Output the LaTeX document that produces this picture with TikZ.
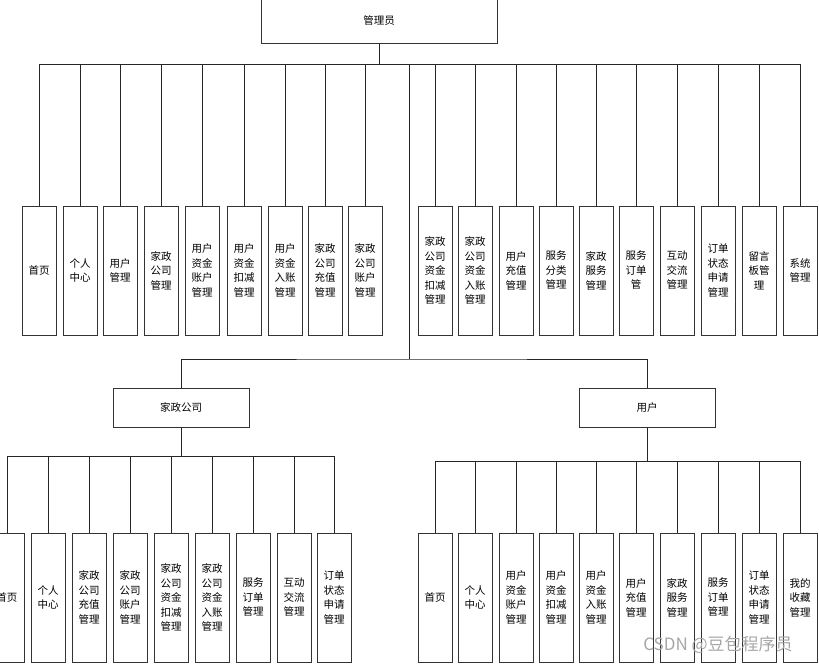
\documentclass[tikz,border=0pt]{standalone}
\usepackage{fontspec}
\newfontfamily\cjk{Noto Sans CJK SC}
\begin{document}
\begin{tikzpicture}[x=1pt,y=-1pt,
  leaf/.style={draw=black!80,line width=0.9pt,minimum width=34pt,minimum height=129pt,inner sep=0pt,text width=30pt,align=center,font=\cjk\fontsize{10.5}{14.5}\selectfont},
  mid/.style={draw=black!80,line width=0.9pt,minimum width=136pt,minimum height=39pt,inner sep=0pt,font=\cjk\fontsize{10.5}{14}\selectfont},
  conn/.style={draw=black!85,line width=0.8pt}]
\useasboundingbox (0,0) rectangle (819,664);
\node[mid,minimum width=236pt,minimum height=44pt] (root) at (379,21) {管理员};
\coordinate (bus) at (379,64);
\foreach \x/\t [count=\i] in {39/首页,80/个人\\中心,120/用户\\管理,161/家政\\公司\\管理,202/用户\\资金\\账户\\管理,244/用户\\资金\\扣减\\管理,285/用户\\资金\\入账\\管理,325/家政\\公司\\充值\\管理,365/家政\\公司\\账户\\管理,435/家政\\公司\\资金\\扣减\\管理,475/家政\\公司\\资金\\入账\\管理,516/用户\\充值\\管理,556/服务\\分类\\管理,596/家政\\服务\\管理,636/服务\\订单\\管,677/互动\\交流\\管理,718/订单\\状态\\申请\\管理,759/留言\\板管\\理,800/系统\\管理}{
  \node[leaf] (t\i) at (\x,270.5) {\t};
  \draw[conn] (t\i.north) -- (t\i.north |- bus);
}
\draw[conn] (root.south) -- (bus);
\draw[conn] (bus -| t1) -- (bus -| t19);
\node[mid] (jz) at (181,407.5) {家政公司};
\node[mid] (yh) at (647,407.5) {用户};
\coordinate (m) at (409,359);
\draw[conn] (bus -| m) -- (m);
\draw[conn] (jz.north) |- (m) -| (yh.north);
\coordinate (jbus) at (181,456);
\draw[conn] (jz.south) -- (jbus);
\foreach \x/\t [count=\i] in {7/首页,48/个人\\中心,89/家政\\公司\\充值\\管理,130/家政\\公司\\账户\\管理,171/家政\\公司\\资金\\扣减\\管理,212/家政\\公司\\资金\\入账\\管理,253/服务\\订单\\管理,294/互动\\交流\\管理,334/订单\\状态\\申请\\管理}{
  \node[leaf] (j\i) at (\x,597.5) {\t};
  \draw[conn] (j\i.north) -- (j\i.north |- jbus);
}
\draw[conn] (jbus -| j1) -- (jbus -| j9);
\coordinate (ubus) at (647,461);
\draw[conn] (yh.south) -- (ubus);
\foreach \x/\t [count=\i] in {435/首页,475/个人\\中心,516/用户\\资金\\账户\\管理,556/用户\\资金\\扣减\\管理,596/用户\\资金\\入账\\管理,636/用户\\充值\\管理,677/家政\\服务\\管理,718/服务\\订单\\管理,759/订单\\状态\\申请\\管理,800/我的\\收藏\\管理}{
  \node[leaf] (u\i) at (\x,597.5) {\t};
  \draw[conn] (u\i.north) -- (u\i.north |- ubus);
}
\draw[conn] (ubus -| u1) -- (ubus -| u10);
\node[font=\cjk\fontsize{17}{17}\selectfont,text=black!35,inner sep=0pt] (wm) at (718,645) {CSDN @豆包程序员};
\end{tikzpicture}
\end{document}
